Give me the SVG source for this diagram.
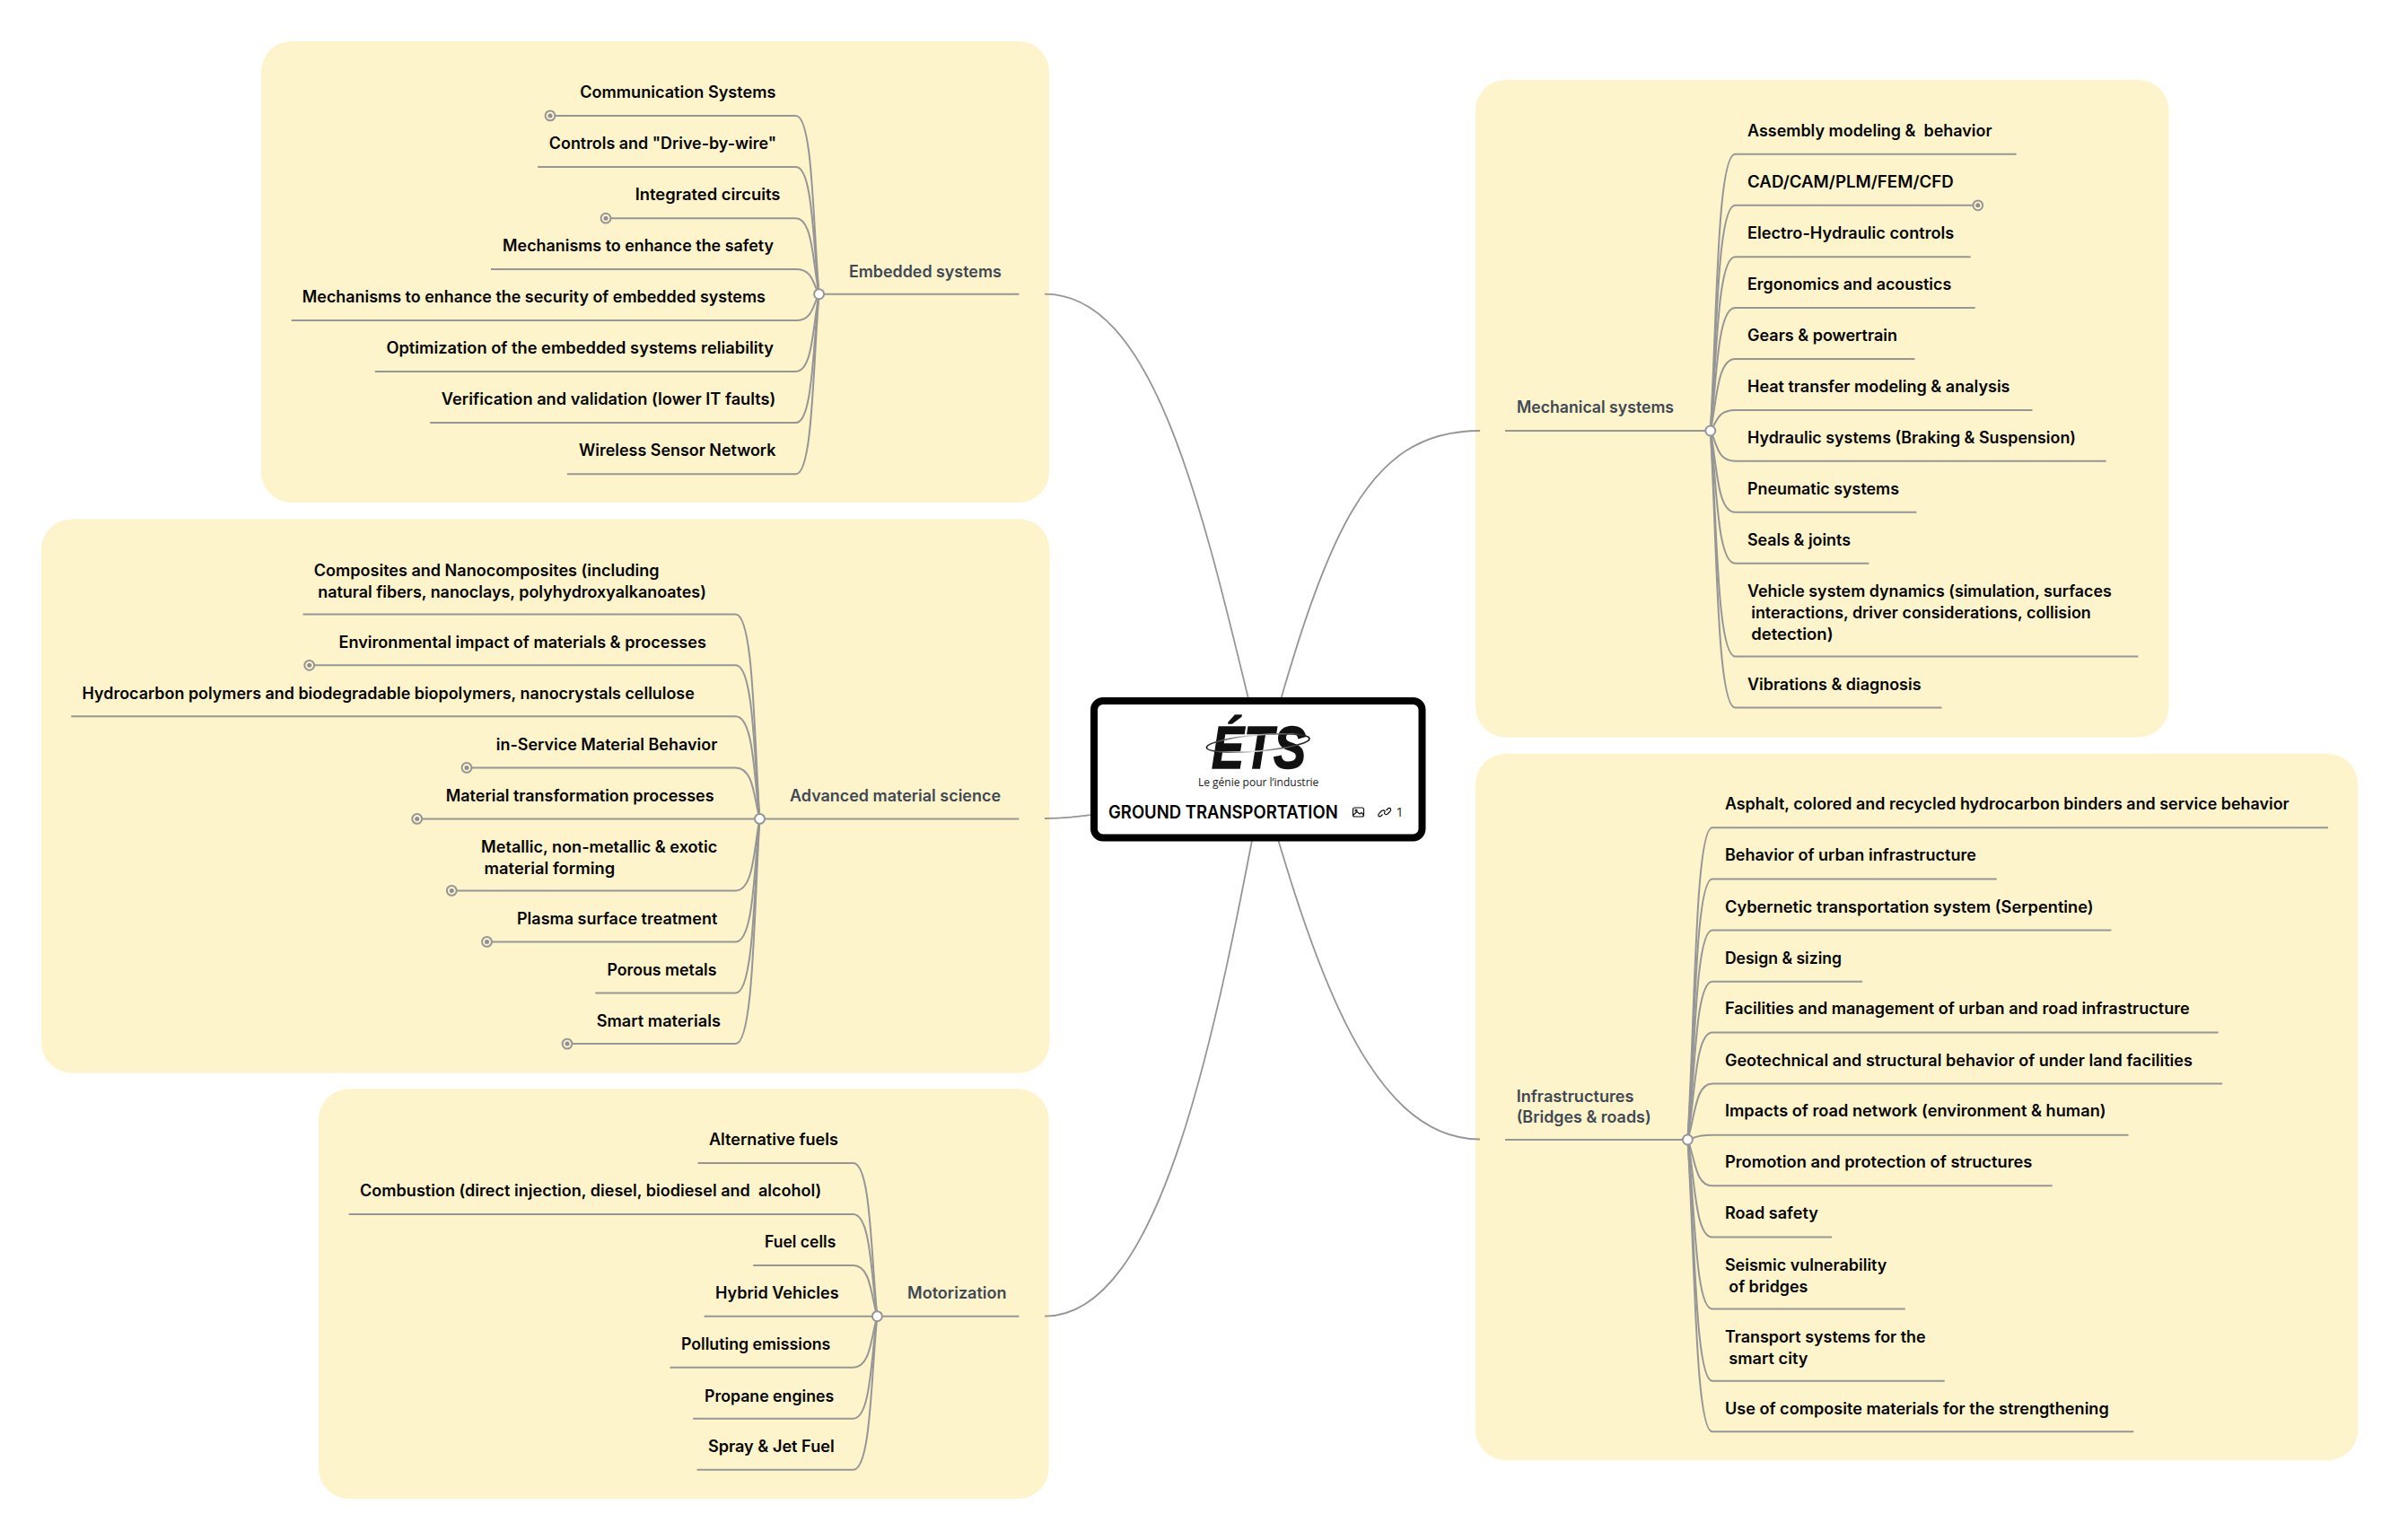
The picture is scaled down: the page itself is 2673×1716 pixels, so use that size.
<svg xmlns="http://www.w3.org/2000/svg" width="2673" height="1716" viewBox="0 0 2673 1716">
<style>
text{font-family:"Inter","Noto Sans","Liberation Sans",sans-serif;white-space:pre}
.t{font-size:18px;font-weight:600;fill:#050505}
.b{font-size:18px;font-weight:600;fill:#3f4853}
.p{fill:#fef4cb}
.c{fill:none;stroke:#969696;stroke-width:2}
.m{fill:none;stroke:#969696;stroke-width:1.8}
.n{fill:#fff;stroke:#969696;stroke-width:2}
</style>
<defs>
<g id="fold"><circle r="5.400" fill="#fef4cb" stroke="#969696" stroke-width="2"/><circle r="2.500" fill="#8f8f96"/></g>
<linearGradient id="orb" x1="0" x2="1" y1="0" y2="0"><stop offset="0" stop-color="#111"/><stop offset=".45" stop-color="#ddd"/><stop offset=".62" stop-color="#888"/><stop offset="1" stop-color="#111"/></linearGradient>
</defs>
<g id="panels">
<rect class="p" x="291" y="46" width="878" height="514" rx="34"/>
<rect class="p" x="46" y="578.500" width="1123.500" height="617" rx="34"/>
<rect class="p" x="355" y="1213.300" width="813.600" height="456.700" rx="34"/>
<rect class="p" x="1644" y="89" width="772.500" height="732.500" rx="34"/>
<rect class="p" x="1644" y="839.800" width="983.300" height="787.400" rx="34"/>
</g>
<g id="connectors">
<path class="m" d="M1164,327.700C1294,327.700 1346,597 1410,857"/>
<path class="m" d="M1164,912C1185,912 1200,910 1240,905"/>
<path class="m" d="M1164,1466.700C1294,1466.700 1354,1157 1410,857"/>
<path class="m" d="M1649,480C1520,480 1477,597 1405,857"/>
<path class="m" d="M1649,1269.500C1520,1269.500 1459,1057 1401,857"/>
<path class="c" d="M912.600,327.700H1135.400"/>
<path class="c" d="M912.600,327.700C905.700,248.200 905.700,128.900 886.800,128.900H613"/>
<path class="c" d="M912.600,327.700C905.700,271 905.700,186 886.800,186H599.200"/>
<path class="c" d="M912.600,327.700C905.700,293.900 905.700,243.200 886.800,243.200H675"/>
<path class="c" d="M912.600,327.700C905.700,316.600 905.700,300 886.800,300H547"/>
<path class="c" d="M912.600,327.700C905.700,339.500 905.700,357.100 886.800,357.100H324.800"/>
<path class="c" d="M912.600,327.700C905.700,362.200 905.700,413.900 886.800,413.900H417.800"/>
<path class="c" d="M912.600,327.700C905.700,385 905.700,471 886.800,471H479.200"/>
<path class="c" d="M912.600,327.700C905.700,407.900 905.700,528.200 886.800,528.200H631.900"/>
<path class="c" d="M846.500,912.400H1135.300"/>
<path class="c" d="M846.500,912.400C840,821.300 840,684.600 819.600,684.600H337.500"/>
<path class="c" d="M846.500,912.400C840,844 840,741.300 819.600,741.300H344.700"/>
<path class="c" d="M846.500,912.400C840,866.800 840,798.300 819.600,798.300H79.300"/>
<path class="c" d="M846.500,912.400C840,889.600 840,855.400 819.600,855.400H520"/>
<path class="c" d="M846.500,912.400H464.700"/>
<path class="c" d="M846.500,912.400C840,944.400 840,992.400 819.600,992.400H503.300"/>
<path class="c" d="M846.500,912.400C840,967.200 840,1049.400 819.600,1049.400H542.500"/>
<path class="c" d="M846.500,912.400C840,990 840,1106.500 819.600,1106.500H663.300"/>
<path class="c" d="M846.500,912.400C840,1012.700 840,1163.100 819.600,1163.100H632"/>
<path class="c" d="M977.400,1466.700H1135.400"/>
<path class="c" d="M977.400,1466.700C970.400,1398.400 970.400,1296 950.600,1296H777.600"/>
<path class="c" d="M977.400,1466.700C970.400,1421.200 970.400,1353 950.600,1353H388.700"/>
<path class="c" d="M977.400,1466.700C970.400,1444 970.400,1410 950.600,1410H839.200"/>
<path class="c" d="M977.400,1466.700H784.600"/>
<path class="c" d="M977.400,1466.700C970.400,1489.500 970.400,1523.700 950.600,1523.700H746.500"/>
<path class="c" d="M977.400,1466.700C970.400,1512.300 970.400,1580.700 950.600,1580.700H772.200"/>
<path class="c" d="M977.400,1466.700C970.400,1535.100 970.400,1637.700 950.600,1637.700H776.500"/>
<path class="c" d="M1905.800,480H1677"/>
<path class="c" d="M1905.800,480C1913,356.700 1913,171.800 1933.400,171.800H2246.600"/>
<path class="c" d="M1905.800,480C1913,379.500 1913,228.800 1933.400,228.800H2203.800"/>
<path class="c" d="M1905.800,480C1913,402.500 1913,286.200 1933.400,286.200H2195.600"/>
<path class="c" d="M1905.800,480C1913,425.200 1913,343 1933.400,343H2200.700"/>
<path class="c" d="M1905.800,480C1913,448 1913,400 1933.400,400H2133.400"/>
<path class="c" d="M1905.800,480C1913,470.800 1913,456.900 1933.400,456.900H2264.500"/>
<path class="c" d="M1905.800,480C1913,493.500 1913,513.800 1933.400,513.800H2346.600"/>
<path class="c" d="M1905.800,480C1913,516.300 1913,570.800 1933.400,570.800H2135.400"/>
<path class="c" d="M1905.800,480C1913,539.100 1913,627.700 1933.400,627.700H2082.300"/>
<path class="c" d="M1905.800,480C1913,580.600 1913,731.500 1933.400,731.500H2382.300"/>
<path class="c" d="M1905.800,480C1913,603.400 1913,788.400 1933.400,788.400H2163.500"/>
<path class="c" d="M1880.400,1270H1677"/>
<path class="c" d="M1880.400,1270C1888.700,1130.900 1888.700,922.300 1907.900,922.300H2594"/>
<path class="c" d="M1880.400,1270C1888.700,1153.800 1888.700,979.500 1907.900,979.500H2224.800"/>
<path class="c" d="M1880.400,1270C1888.700,1176.600 1888.700,1036.600 1907.900,1036.600H2352.400"/>
<path class="c" d="M1880.400,1270C1888.700,1199.500 1888.700,1093.800 1907.900,1093.800H2075"/>
<path class="c" d="M1880.400,1270C1888.700,1222.200 1888.700,1150.400 1907.900,1150.400H2471.600"/>
<path class="c" d="M1880.400,1270C1888.700,1245 1888.700,1207.500 1907.900,1207.500H2476.100"/>
<path class="c" d="M1880.400,1270C1888.700,1267.900 1888.700,1264.700 1907.900,1264.700H2371.500"/>
<path class="c" d="M1880.400,1270C1888.700,1290.500 1888.700,1321.300 1907.900,1321.300H2286.700"/>
<path class="c" d="M1880.400,1270C1888.700,1313.400 1888.700,1378.500 1907.900,1378.500H2041.100"/>
<path class="c" d="M1880.400,1270C1888.700,1345.400 1888.700,1458.600 1907.900,1458.600H2122.800"/>
<path class="c" d="M1880.400,1270C1888.700,1377.500 1888.700,1538.700 1907.900,1538.700H2166.800"/>
<path class="c" d="M1880.400,1270C1888.700,1400.100 1888.700,1595.300 1907.900,1595.300H2377.300"/>
</g>
<g id="root">
<rect x="1219" y="781" width="365.500" height="152.600" rx="10" fill="#fff" stroke="#000" stroke-width="8"/>
<text x="1350" y="856" font-size="66" font-weight="700" font-style="italic" stroke="#111" stroke-width="1.500" textLength="105" lengthAdjust="spacingAndGlyphs" style="font-family:'Liberation Sans',sans-serif" fill="#111">ÉTS</text>
<ellipse cx="1401.700" cy="828" rx="57.500" ry="9" transform="rotate(-5 1401.700 828)" fill="none" stroke="url(#orb)" stroke-width="1.600"/>
<text x="1335" y="876" font-size="13.500" textLength="134.300" lengthAdjust="spacingAndGlyphs" style="font-family:'Open Sans',sans-serif" fill="#222">Le génie pour l’industrie</text>
<text x="1235" y="911.500" font-size="20" font-weight="600" textLength="255.700" lengthAdjust="spacingAndGlyphs" fill="#000">GROUND TRANSPORTATION</text>
<g fill="none" stroke="#111" stroke-width="1.200"><rect x="1507.500" y="900" width="12" height="10" rx="2"/><path d="M1508,908L1512,904.500L1515,907L1517,905.500L1519.500,908"/><circle cx="1511" cy="903" r="1"/>
<path d="M1540.500,907.500L1539,909C1536,911.500 1534.500,908 1537,906L1539.500,903.500C1541.500,902 1543.500,903.500 1543,905M1544.500,903L1546.500,901C1549,899 1551,902 1548.500,904.500L1546,907C1544,908.500 1542,907 1542.500,905"/></g>
<text x="1556.500" y="909.500" font-size="13" fill="#333">1</text>
</g>
<g id="embedded-systems">
<circle class="n" cx="912.600" cy="327.700" r="5.500"/>
<text class="b" x="945.900" y="308.500" textLength="169.900" lengthAdjust="spacingAndGlyphs">Embedded systems</text>
</g>
<g id="communication-systems"><use href="#fold" x="613" y="128.900"/><text class="t" x="646.200" y="109.400" textLength="218.200" lengthAdjust="spacingAndGlyphs">Communication Systems</text></g>
<g id="controls"><text class="t" x="611.800" y="166.200" textLength="253.200" lengthAdjust="spacingAndGlyphs">Controls and "Drive-by-wire"</text></g>
<g id="integrated-circuits"><use href="#fold" x="675" y="243.200"/><text class="t" x="707.700" y="223" textLength="161.800" lengthAdjust="spacingAndGlyphs">Integrated circuits</text></g>
<g id="safety"><text class="t" x="560.100" y="280.100" textLength="302" lengthAdjust="spacingAndGlyphs">Mechanisms to enhance the safety</text></g>
<g id="security"><text class="t" x="336.800" y="337.200" textLength="516.100" lengthAdjust="spacingAndGlyphs">Mechanisms to enhance the security of embedded systems</text></g>
<g id="optimization"><text class="t" x="430.400" y="394.400" textLength="431.700" lengthAdjust="spacingAndGlyphs">Optimization of the embedded systems reliability</text></g>
<g id="verification"><text class="t" x="491.800" y="451.200" textLength="372.600" lengthAdjust="spacingAndGlyphs">Verification and validation (lower IT faults)</text></g>
<g id="wireless"><text class="t" x="645" y="508" textLength="219.400" lengthAdjust="spacingAndGlyphs">Wireless Sensor Network</text></g>
<g id="advanced-material-science">
<circle class="n" cx="846.500" cy="912.400" r="5.500"/>
<text class="b" x="880" y="893.200" textLength="235" lengthAdjust="spacingAndGlyphs">Advanced material science</text>
</g>
<g id="composites"><text class="t" x="349.800" y="641.700" textLength="384.700" lengthAdjust="spacingAndGlyphs">Composites and Nanocomposites (including</text><text class="t" x="354.200" y="665.800" textLength="432.700" lengthAdjust="spacingAndGlyphs">natural fibers, nanoclays, polyhydroxyalkanoates)</text></g>
<g id="environmental"><use href="#fold" x="344.700" y="741.300"/><text class="t" x="377.500" y="721.600" textLength="409.400" lengthAdjust="spacingAndGlyphs">Environmental impact of materials &amp; processes</text></g>
<g id="hydrocarbon"><text class="t" x="91.600" y="779.100" textLength="682.200" lengthAdjust="spacingAndGlyphs">Hydrocarbon polymers and biodegradable biopolymers, nanocrystals cellulose</text></g>
<g id="in-service"><use href="#fold" x="520" y="855.400"/><text class="t" x="552.700" y="836.100" textLength="246.600" lengthAdjust="spacingAndGlyphs">in-Service Material Behavior</text></g>
<g id="transformation"><use href="#fold" x="464.700" y="912.400"/><text class="t" x="496.700" y="893.200" textLength="298.900" lengthAdjust="spacingAndGlyphs">Material transformation processes</text></g>
<g id="metallic"><use href="#fold" x="503.300" y="992.400"/><text class="t" x="536" y="949.800" textLength="263.300" lengthAdjust="spacingAndGlyphs">Metallic, non-metallic &amp; exotic</text><text class="t" x="539.600" y="974" textLength="145.500" lengthAdjust="spacingAndGlyphs">material forming</text></g>
<g id="plasma"><use href="#fold" x="542.500" y="1049.400"/><text class="t" x="576" y="1029.800" textLength="223.300" lengthAdjust="spacingAndGlyphs">Plasma surface treatment</text></g>
<g id="porous"><text class="t" x="676.400" y="1086.900" textLength="122.100" lengthAdjust="spacingAndGlyphs">Porous metals</text></g>
<g id="smart-materials"><use href="#fold" x="632" y="1163.100"/><text class="t" x="664.700" y="1143.900" textLength="138.200" lengthAdjust="spacingAndGlyphs">Smart materials</text></g>
<g id="motorization">
<circle class="n" cx="977.400" cy="1466.700" r="5.500"/>
<text class="b" x="1011.100" y="1447.200" textLength="110.400" lengthAdjust="spacingAndGlyphs">Motorization</text>
</g>
<g id="alternative"><text class="t" x="789.900" y="1276.200" textLength="144.100" lengthAdjust="spacingAndGlyphs">Alternative fuels</text></g>
<g id="combustion"><text class="t" x="401" y="1333.200" textLength="514.300" lengthAdjust="spacingAndGlyphs">Combustion (direct injection, diesel, biodiesel and  alcohol)</text></g>
<g id="fuel-cells"><text class="t" x="852" y="1390.200" textLength="79.300" lengthAdjust="spacingAndGlyphs">Fuel cells</text></g>
<g id="hybrid"><text class="t" x="796.900" y="1447.200" textLength="137.700" lengthAdjust="spacingAndGlyphs">Hybrid Vehicles</text></g>
<g id="polluting"><text class="t" x="758.900" y="1504.200" textLength="166.500" lengthAdjust="spacingAndGlyphs">Polluting emissions</text></g>
<g id="propane"><text class="t" x="785.100" y="1561.500" textLength="144.100" lengthAdjust="spacingAndGlyphs">Propane engines</text></g>
<g id="spray"><text class="t" x="788.900" y="1618.200" textLength="140.800" lengthAdjust="spacingAndGlyphs">Spray &amp; Jet Fuel</text></g>
<g id="mechanical-systems">
<circle class="n" cx="1905.800" cy="480" r="5.500"/>
<text class="b" x="1690" y="460.100" textLength="175" lengthAdjust="spacingAndGlyphs">Mechanical systems</text>
</g>
<g id="assembly"><text class="t" x="1947" y="152" textLength="272.600" lengthAdjust="spacingAndGlyphs">Assembly modeling &amp;  behavior</text></g>
<g id="cad"><use href="#fold" x="2203.800" y="228.800"/><text class="t" x="1947" y="208.900" textLength="229.700" lengthAdjust="spacingAndGlyphs">CAD/CAM/PLM/FEM/CFD</text></g>
<g id="electro"><text class="t" x="1947" y="265.900" textLength="230.300" lengthAdjust="spacingAndGlyphs">Electro-Hydraulic controls</text></g>
<g id="ergonomics"><text class="t" x="1947" y="322.800" textLength="227.200" lengthAdjust="spacingAndGlyphs">Ergonomics and acoustics</text></g>
<g id="gears"><text class="t" x="1947" y="380" textLength="167" lengthAdjust="spacingAndGlyphs">Gears &amp; powertrain</text></g>
<g id="heat"><text class="t" x="1947" y="437.100" textLength="292.500" lengthAdjust="spacingAndGlyphs">Heat transfer modeling &amp; analysis</text></g>
<g id="hydraulic"><text class="t" x="1947" y="494" textLength="366" lengthAdjust="spacingAndGlyphs">Hydraulic systems (Braking &amp; Suspension)</text></g>
<g id="pneumatic"><text class="t" x="1947" y="550.900" textLength="169" lengthAdjust="spacingAndGlyphs">Pneumatic systems</text></g>
<g id="seals"><text class="t" x="1947" y="607.900" textLength="115" lengthAdjust="spacingAndGlyphs">Seals &amp; joints</text></g>
<g id="vehicle"><text class="t" x="1947" y="664.800" textLength="405.800" lengthAdjust="spacingAndGlyphs">Vehicle system dynamics (simulation, surfaces</text><text class="t" x="1951.200" y="688.700" textLength="378.600" lengthAdjust="spacingAndGlyphs">interactions, driver considerations, collision</text><text class="t" x="1951.200" y="712.600" textLength="91.400" lengthAdjust="spacingAndGlyphs">detection)</text></g>
<g id="vibrations"><text class="t" x="1947" y="769.100" textLength="193.500" lengthAdjust="spacingAndGlyphs">Vibrations &amp; diagnosis</text></g>
<g id="infrastructures">
<circle class="n" cx="1880.400" cy="1270" r="5.500"/>
<text class="b" x="1689.700" y="1227.800" textLength="130.800" lengthAdjust="spacingAndGlyphs">Infrastructures</text><text class="b" x="1689.700" y="1251.300" textLength="149.900" lengthAdjust="spacingAndGlyphs">(Bridges &amp; roads)</text>
</g>
<g id="asphalt"><text class="t" x="1921.900" y="902.300" textLength="628.800" lengthAdjust="spacingAndGlyphs">Asphalt, colored and recycled hydrocarbon binders and service behavior</text></g>
<g id="urban"><text class="t" x="1921.900" y="959.400" textLength="280" lengthAdjust="spacingAndGlyphs">Behavior of urban infrastructure</text></g>
<g id="cybernetic"><text class="t" x="1921.900" y="1016.600" textLength="410.700" lengthAdjust="spacingAndGlyphs">Cybernetic transportation system (Serpentine)</text></g>
<g id="design"><text class="t" x="1921.900" y="1073.700" textLength="130.100" lengthAdjust="spacingAndGlyphs">Design &amp; sizing</text></g>
<g id="facilities"><text class="t" x="1921.900" y="1130.400" textLength="517.800" lengthAdjust="spacingAndGlyphs">Facilities and management of urban and road infrastructure</text></g>
<g id="geotechnical"><text class="t" x="1921.900" y="1187.500" textLength="521" lengthAdjust="spacingAndGlyphs">Geotechnical and structural behavior of under land facilities</text></g>
<g id="impacts"><text class="t" x="1921.900" y="1244.100" textLength="424.700" lengthAdjust="spacingAndGlyphs">Impacts of road network (environment &amp; human)</text></g>
<g id="promotion"><text class="t" x="1921.900" y="1301.300" textLength="342.500" lengthAdjust="spacingAndGlyphs">Promotion and protection of structures</text></g>
<g id="road-safety"><text class="t" x="1921.900" y="1358.400" textLength="103.900" lengthAdjust="spacingAndGlyphs">Road safety</text></g>
<g id="seismic"><text class="t" x="1921.900" y="1415.600" textLength="180.500" lengthAdjust="spacingAndGlyphs">Seismic vulnerability</text><text class="t" x="1926.300" y="1439.600" textLength="88.100" lengthAdjust="spacingAndGlyphs">of bridges</text></g>
<g id="transport"><text class="t" x="1921.900" y="1495.700" textLength="223.800" lengthAdjust="spacingAndGlyphs">Transport systems for the</text><text class="t" x="1926.300" y="1519.700" textLength="88.100" lengthAdjust="spacingAndGlyphs">smart city</text></g>
<g id="composite-use"><text class="t" x="1921.900" y="1575.800" textLength="427.900" lengthAdjust="spacingAndGlyphs">Use of composite materials for the strengthening</text></g>
</svg>
